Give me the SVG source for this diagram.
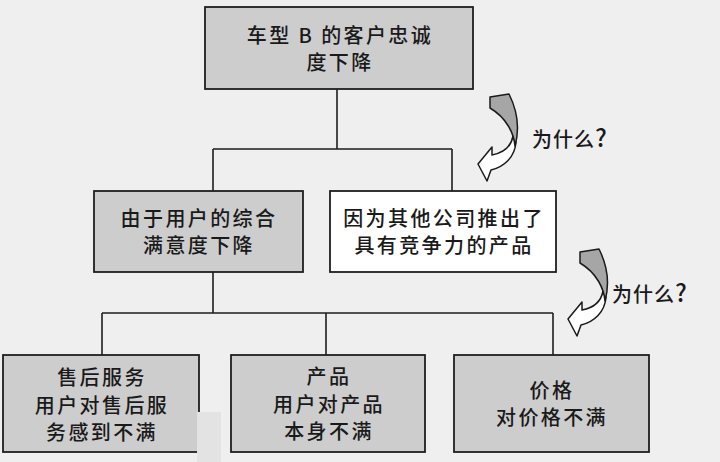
<svg xmlns="http://www.w3.org/2000/svg" width="720" height="462" viewBox="0 0 720 462">
<defs>
<style>
.bg{fill:#efefef}
.box{fill:#cdcdcd;stroke:#1e1e1e;stroke-width:1.8}
.wbox{fill:#ffffff;stroke:#1e1e1e;stroke-width:1.8}
.t{font-family:"Noto Sans CJK SC","Noto Sans",sans-serif;font-size:20px;font-weight:500;fill:#1a1a1a;text-anchor:middle;letter-spacing:2.4px}
.q{font-family:"Noto Sans CJK SC","Noto Sans",sans-serif;font-size:20px;font-weight:500;fill:#1a1a1a;letter-spacing:1px}
.ln{fill:none;stroke:#1e1e1e;stroke-width:1.6}
.band{fill:#a6a6a6;stroke:#1a1a1a;stroke-width:1.5;stroke-linejoin:round}
.tail{fill:#ffffff;stroke:#1a1a1a;stroke-width:1.5;stroke-linejoin:round}
</style>
<g id="whyArrow">
<path class="tail" d="M43,46 C41,57 33,63 22,65 L22,57 L8,74 L17,91 L21,80 C34,77 45,67 46,52 Z"/>
<path class="band" d="M20,7 L39,4 C47,20 50,38 45,56 C44,44 37,28 20,18 Z"/>
</g>
</defs>
<rect class="bg" x="0" y="0" width="720" height="462"/>

<g id="connectors">
<path class="ln" d="M337,89 V149 M213,149 H452 M213,149 V191 M452,149 V191"/>
<path class="ln" d="M213,272 V313 M102,313 H553 M102,313 V355 M326,313 V355 M553,313 V355"/>
</g>

<g id="n-top">
<rect class="box" x="205" y="7" width="268" height="82"/>
<text class="t" x="340" y="43">车型 B 的客户忠诚</text>
<text class="t" x="340" y="70">度下降</text>
</g>

<g id="n-mid-left">
<rect class="box" x="94" y="191" width="209" height="81"/>
<text class="t" x="199" y="226">由于用户的综合</text>
<text class="t" x="199" y="253">满意度下降</text>
</g>

<g id="n-mid-right">
<rect class="wbox" x="330" y="191" width="226" height="81"/>
<text class="t" x="444" y="226">因为其他公司推出了</text>
<text class="t" x="444" y="253">具有竞争力的产品</text>
</g>

<g id="n-bot-left">
<rect class="box" x="3" y="355" width="196" height="97"/>
<text class="t" x="102" y="385">售后服务</text>
<text class="t" x="102" y="413">用户对售后服</text>
<text class="t" x="102" y="440">务感到不满</text>
</g>

<g id="n-bot-mid">
<rect class="box" x="231" y="355" width="194" height="97"/>
<text class="t" x="329" y="384">产品</text>
<text class="t" x="329" y="412">用户对产品</text>
<text class="t" x="329" y="439">本身不满</text>
</g>

<g id="n-bot-right">
<rect class="box" x="454" y="355" width="195" height="97"/>
<text class="t" x="552" y="398">价格</text>
<text class="t" x="552" y="425">对价格不满</text>
</g>

<g id="why1">
<use href="#whyArrow" x="470" y="90"/>
<text class="q" x="532" y="147">为什么<tspan font-size="24px">?</tspan></text>
</g>
<g id="why2">
<use href="#whyArrow" x="560" y="245"/>
<text class="q" x="612" y="302">为什么<tspan font-size="24px">?</tspan></text>
</g>

<rect x="197" y="412" width="24" height="50" fill="#e3e3e3"/>
</svg>
